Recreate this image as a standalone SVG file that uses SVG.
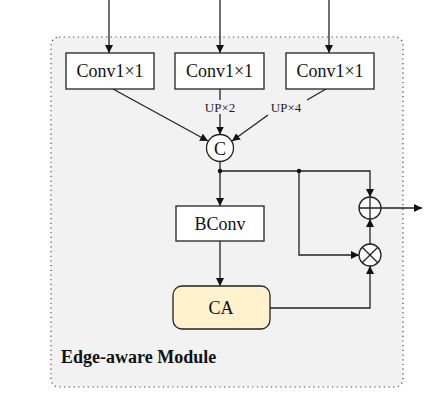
<svg xmlns="http://www.w3.org/2000/svg" width="442" height="402" viewBox="0 0 442 402">
<style>
.box{fill:#fff;stroke:#222;stroke-width:1.3}
.t{font-family:"Liberation Serif","Times New Roman",serif;font-size:18px;fill:#111;text-anchor:middle}
.s{font-family:"Liberation Serif","Times New Roman",serif;font-size:13px;fill:#222;text-anchor:middle}
.ln{fill:none;stroke:#222;stroke-width:1.3}
.op{fill:#fff;stroke:#222;stroke-width:1.3}
</style>
<defs>
<marker id="ah" viewBox="0 0 10 10" refX="10" refY="5" markerWidth="8" markerHeight="8" markerUnits="userSpaceOnUse" orient="auto">
<path d="M0,0 L10,5 L0,10 z" fill="#111"/>
</marker>
</defs>
<g id="module">
<rect x="51" y="37" width="352" height="350" rx="8" fill="#f2f2f2" stroke="#444" stroke-width="1.2" stroke-dasharray="1.2,3.5"/>
<text x="61" y="363" font-family="Liberation Serif,Times New Roman,serif" font-size="18" font-weight="bold" fill="#111">Edge-aware Module</text>
</g>
<g id="connectors">
<line class="ln" x1="109" y1="0" x2="109" y2="53" marker-end="url(#ah)"/>
<line class="ln" x1="220" y1="0" x2="220" y2="53" marker-end="url(#ah)"/>
<line class="ln" x1="329" y1="0" x2="329" y2="53" marker-end="url(#ah)"/>
<line class="ln" x1="113" y1="89" x2="208" y2="141" marker-end="url(#ah)"/>
<line class="ln" x1="220" y1="89" x2="220" y2="100"/>
<line class="ln" x1="220" y1="114" x2="220" y2="134.5" marker-end="url(#ah)"/>
<line class="ln" x1="326" y1="89" x2="307" y2="100"/>
<line class="ln" x1="268" y1="115" x2="232" y2="141" marker-end="url(#ah)"/>
<line class="ln" x1="220" y1="161.5" x2="220" y2="206" marker-end="url(#ah)"/>
<polyline class="ln" points="220,171 370,171 370,197" marker-end="url(#ah)"/>
<polyline class="ln" points="299,171 299,255 359,255" marker-end="url(#ah)"/>
<line class="ln" x1="370" y1="244" x2="370" y2="219" marker-end="url(#ah)"/>
<line class="ln" x1="381" y1="208" x2="422" y2="208" marker-end="url(#ah)"/>
<line class="ln" x1="220" y1="241" x2="220" y2="286" marker-end="url(#ah)"/>
<polyline class="ln" points="270,308 370,308 370,266" marker-end="url(#ah)"/>
<circle cx="220" cy="171" r="2.2" fill="#111"/>
<circle cx="299" cy="171" r="2.2" fill="#111"/>
<text class="s" x="220" y="112">UP×2</text>
<text class="s" x="286" y="112">UP×4</text>
</g>
<g id="conv1"><rect class="box" x="66" y="53" width="88" height="36"/><text class="t" x="110" y="77">Conv1×1</text></g>
<g id="conv2"><rect class="box" x="175" y="53" width="89" height="36"/><text class="t" x="219.5" y="77">Conv1×1</text></g>
<g id="conv3"><rect class="box" x="286" y="53" width="88" height="36"/><text class="t" x="330" y="77">Conv1×1</text></g>
<g id="concat"><circle class="op" cx="220" cy="148" r="13.5"/><text class="t" x="220" y="154.5">C</text></g>
<g id="bconv"><rect class="box" x="176" y="206" width="88" height="35"/><text class="t" x="220" y="229.5">BConv</text></g>
<g id="ca"><rect x="173" y="286" width="97" height="43" rx="9" fill="#fff2cc" stroke="#222" stroke-width="1.3"/><text class="t" x="221" y="313.5">CA</text></g>
<g id="add"><circle class="op" cx="370" cy="208" r="11"/><path class="ln" d="M359,208 H381 M370,197 V219"/></g>
<g id="mul"><circle class="op" cx="370" cy="255" r="11"/><path class="ln" d="M362.2,247.2 L377.8,262.8 M377.8,247.2 L362.2,262.8"/></g>
</svg>
